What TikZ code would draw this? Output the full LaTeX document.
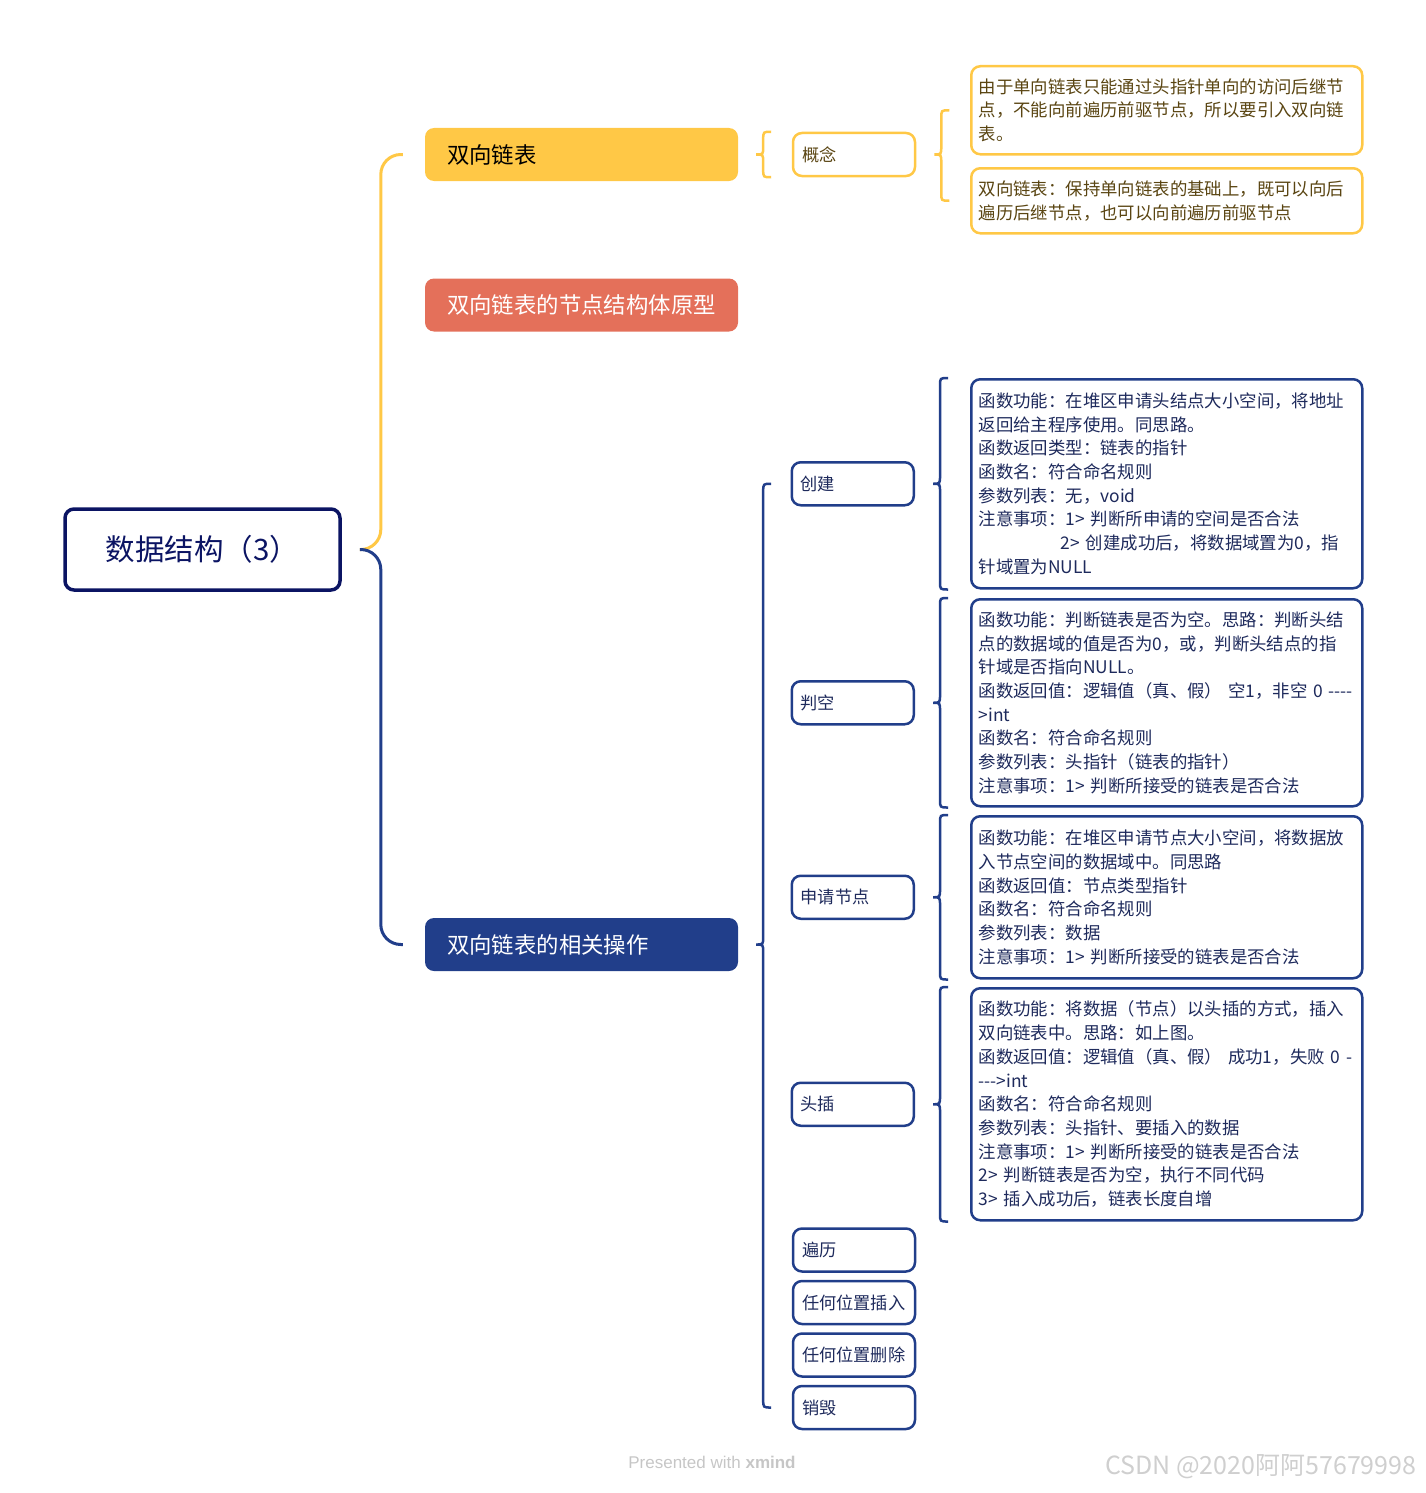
\documentclass[tikz,border=0pt]{standalone}
\usepackage{fontspec}
\setmainfont{Noto Sans CJK SC}
\newfontfamily\latinsans{Liberation Sans}
\usetikzlibrary{positioning, calc}

\definecolor{mmyellow}{HTML}{FFC846}
\definecolor{mmred}{HTML}{E4705A}
\definecolor{mmnavy}{HTML}{213E8A}
\definecolor{mmroot}{HTML}{0B1463}
\definecolor{mmbrown}{HTML}{5A4512}
\definecolor{mmtext}{HTML}{1E2A5C}
\definecolor{mmgray}{HTML}{C6C6C6}

% curly brace from a parent to its group of children
\newcommand{\mmbrace}[4]{%
  \draw[curly, #1] let \p1 = ($(#2.east)+(18,0)$), \p2 = (#3), \p3 = (#4) in
    (\x1+15pt,\y2) .. controls (\x1+7pt,\y2) .. (\x1+7pt,\y2-8pt)
    -- (\x1+7pt,\y1+8pt) .. controls (\x1+7pt,\y1) .. (\x1,\y1)
    .. controls (\x1+7pt,\y1) .. (\x1+7pt,\y1-8pt)
    -- (\x1+7pt,\y3+8pt) .. controls (\x1+7pt,\y3) .. (\x1+15pt,\y3);
}

\begin{document}
\begin{tikzpicture}[
  x=1pt, y=-1pt,
  root/.style  = {draw=mmroot, line width=3.5pt, rounded corners=9pt, minimum width=275pt,
                  minimum height=81pt, text=mmroot, font=\fontsize{29.5}{34}\selectfont},
  topic/.style = {rounded corners=9pt, minimum width=313pt, minimum height=53pt, text width=269pt,
                  inner xsep=22pt, align=left, font=\fontsize{22.4}{27}\selectfont},
  sub/.style   = {draw, fill=white, line width=2.5pt, rounded corners=9pt, minimum width=122pt,
                  minimum height=43pt, text width=104pt, inner xsep=9pt, align=left,
                  font=\fontsize{17.2}{21}\selectfont},
  memo/.style  = {draw, fill=white, line width=2.5pt, rounded corners=9pt, minimum width=391pt,
                  text width=376pt, inner xsep=7.5pt, align=left, anchor=north west,
                  font=\fontsize{17.4}{23.7}\selectfont},
  trunk/.style = {line width=3pt, rounded corners=20pt},
  curly/.style = {line width=2.5pt},
]
  \useasboundingbox (0,0) rectangle (1426,1493);

  % ---- root and its three topics ----
  \node[root] (root) at (202.5,549.5) {数据结构（3）};

  \node[topic, fill=mmyellow, text=black] (b1) at (581.5,154.5) {双向链表};
  \node[topic, fill=mmred, text=white]    (b2) at (581.5,305)   {双向链表的节点结构体原型};
  \node[topic, fill=mmnavy, text=white]   (b3) at (581.5,944.5) {双向链表的相关操作};

  \draw[trunk, mmyellow] ($(root.east)+(18,0)$) -| ($(b1.west)+(-44,0)$) -- ($(b1.west)+(-22,0)$);
  \draw[trunk, mmnavy]   ($(root.east)+(18,0)$) -| ($(b3.west)+(-44,0)$) -- ($(b3.west)+(-22,0)$);

  % ---- concept ----
  \node[sub, draw=mmyellow, text=mmbrown] (k) at (854,154.5) {概念};

  \node[memo, draw=mmyellow, text=mmbrown, minimum height=88pt] (t1) at (970,65)
    {由于单向链表只能通过头指针单向的访问后继节\\点，不能向前遍历前驱节点，所以要引入双向链\\表。};
  \node[memo, draw=mmyellow, text=mmbrown, minimum height=65pt] (t2) at (970,167)
    {双向链表：保持单向链表的基础上，既可以向后\\遍历后继节点，也可以向前遍历前驱节点};

  \mmbrace{mmyellow}{b1}{k.north}{k.south}
  \mmbrace{mmyellow}{k}{t1.west}{t2.west}

  % ---- operations: notes first, items left of them ----
  \node[memo, draw=mmnavy, text=mmtext, minimum height=209pt] (d1) at (970,378)
    {函数功能：在堆区申请头结点大小空间，将地址\\
     返回给主程序使用。同思路。\\
     函数返回类型：链表的指针\\
     函数名：符合命名规则\\
     参数列表：无，void\\
     注意事项：1> 判断所申请的空间是否合法\\
     \hspace*{82pt}2> 创建成功后，将数据域置为0，指\\
     针域置为NULL};
  \node[memo, draw=mmnavy, text=mmtext, minimum height=207pt] (d2) at (970,598)
    {函数功能：判断链表是否为空。思路：判断头结\\
     点的数据域的值是否为0，或，判断头结点的指\\
     针域是否指向NULL。\\
     \mbox{函数返回值：逻辑值（真、假） 空1，非空 0 -{}-{}-{}-}\\
     >int\\
     函数名：符合命名规则\\
     参数列表：头指针（链表的指针）\\
     注意事项：1> 判断所接受的链表是否合法};
  \node[memo, draw=mmnavy, text=mmtext, minimum height=162pt] (d3) at (970,815)
    {函数功能：在堆区申请节点大小空间，将数据放\\
     入节点空间的数据域中。同思路\\
     函数返回值：节点类型指针\\
     函数名：符合命名规则\\
     参数列表：数据\\
     注意事项：1> 判断所接受的链表是否合法};
  \node[memo, draw=mmnavy, text=mmtext, minimum height=232pt] (d4) at (970,987)
    {函数功能：将数据（节点）以头插的方式，插入\\
     双向链表中。思路：如上图。\\
     \mbox{函数返回值：逻辑值（真、假） 成功1，失败 0 -}\\
     -{}-{}->int\\
     函数名：符合命名规则\\
     参数列表：头指针、要插入的数据\\
     注意事项：1> 判断所接受的链表是否合法\\
     2> 判断链表是否为空，执行不同代码\\
     3> 插入成功后，链表长度自增};

  \node[sub, draw=mmnavy, text=mmtext, left=55pt of d1] (c1) {创建};
  \node[sub, draw=mmnavy, text=mmtext, left=55pt of d2] (c2) {判空};
  \node[sub, draw=mmnavy, text=mmtext, left=55pt of d3] (c3) {申请节点};
  \node[sub, draw=mmnavy, text=mmtext, left=55pt of d4] (c4) {头插};
  \node[sub, draw=mmnavy, text=mmtext] (c5) at (854,1250) {遍历};
  \node[sub, draw=mmnavy, text=mmtext, below=7pt of c5] (c6) {任何位置插入};
  \node[sub, draw=mmnavy, text=mmtext, below=7pt of c6] (c7) {任何位置删除};
  \node[sub, draw=mmnavy, text=mmtext, below=7pt of c7] (c8) {销毁};

  \mmbrace{mmnavy}{b3}{c1.west}{c8.west}
  \mmbrace{mmnavy}{c1}{d1.north}{d1.south}
  \mmbrace{mmnavy}{c2}{d2.north}{d2.south}
  \mmbrace{mmnavy}{c3}{d3.north}{d3.south}
  \mmbrace{mmnavy}{c4}{d4.north}{d4.south}

  % ---- footer ----
  \node[text=mmgray, font=\fontsize{17}{20}\selectfont\latinsans] (credit) at (712,1462)
    {Presented with \textbf{xmind}};
  \node[text=mmgray!85, font=\fontsize{25}{30}\selectfont, anchor=east] (mark) at (1420,1467)
    {CSDN @2020阿阿57679998};
\end{tikzpicture}
\end{document}
